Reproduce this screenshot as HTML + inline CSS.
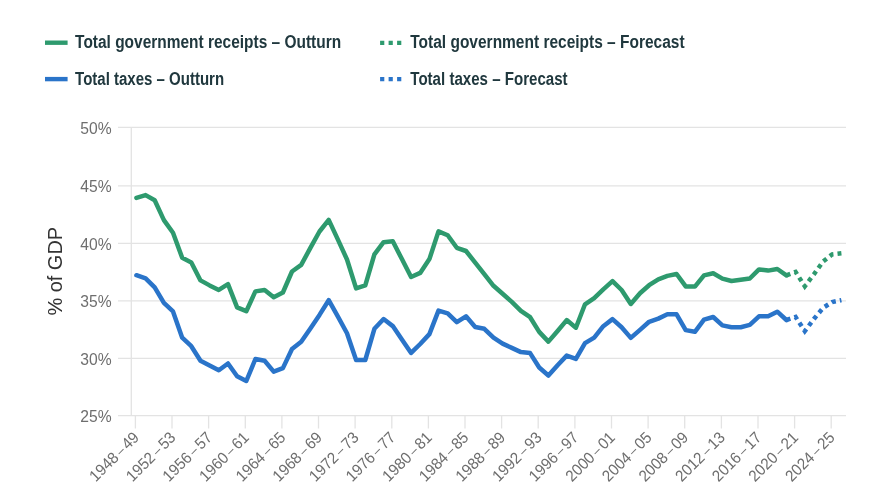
<!DOCTYPE html>
<html><head><meta charset="utf-8"><style>
html,body{margin:0;padding:0;background:#fff;width:869px;height:504px;overflow:hidden}
svg{display:block;will-change:transform}
text{font-family:"Liberation Sans",sans-serif}
</style></head><body>
<svg width="869" height="504" viewBox="0 0 869 504">
<line x1="45" y1="42.7" x2="67.6" y2="42.7" stroke="#2e9a6e" stroke-width="4.4"/>
<line x1="45" y1="79.1" x2="67.6" y2="79.1" stroke="#2a74c9" stroke-width="4.4"/>
<line x1="380.1" y1="42.8" x2="401.5" y2="42.8" stroke="#2e9a6e" stroke-width="4.2" stroke-dasharray="4.2 4.3"/>
<line x1="380.1" y1="79.1" x2="401.5" y2="79.1" stroke="#2a74c9" stroke-width="4.2" stroke-dasharray="4.2 4.3"/>
<text x="75.1" y="48.3" font-family="Liberation Sans" font-weight="bold" font-size="18" fill="#20383e" textLength="266" lengthAdjust="spacingAndGlyphs">Total government receipts – Outturn</text>
<text x="75.1" y="84.5" font-family="Liberation Sans" font-weight="bold" font-size="18" fill="#20383e" textLength="149" lengthAdjust="spacingAndGlyphs">Total taxes – Outturn</text>
<text x="410.3" y="48.3" font-family="Liberation Sans" font-weight="bold" font-size="18" fill="#20383e" textLength="274.3" lengthAdjust="spacingAndGlyphs">Total government receipts – Forecast</text>
<text x="410.3" y="84.5" font-family="Liberation Sans" font-weight="bold" font-size="18" fill="#20383e" textLength="157.3" lengthAdjust="spacingAndGlyphs">Total taxes – Forecast</text>
<line x1="118" y1="127.3" x2="846" y2="127.3" stroke="#e3e3e3" stroke-width="1.3"/>
<text transform="translate(111.6,133.5) scale(0.95,1)" text-anchor="end" font-family="Liberation Sans" font-size="16.5" fill="#6e6e6e">50%</text>
<line x1="118" y1="185.9" x2="846" y2="185.9" stroke="#e3e3e3" stroke-width="1.3"/>
<text transform="translate(111.6,192.1) scale(0.95,1)" text-anchor="end" font-family="Liberation Sans" font-size="16.5" fill="#6e6e6e">45%</text>
<line x1="118" y1="243.4" x2="846" y2="243.4" stroke="#e3e3e3" stroke-width="1.3"/>
<text transform="translate(111.6,249.6) scale(0.95,1)" text-anchor="end" font-family="Liberation Sans" font-size="16.5" fill="#6e6e6e">40%</text>
<line x1="118" y1="300.9" x2="846" y2="300.9" stroke="#e3e3e3" stroke-width="1.3"/>
<text transform="translate(111.6,307.1) scale(0.95,1)" text-anchor="end" font-family="Liberation Sans" font-size="16.5" fill="#6e6e6e">35%</text>
<line x1="118" y1="358.4" x2="846" y2="358.4" stroke="#e3e3e3" stroke-width="1.3"/>
<text transform="translate(111.6,364.6) scale(0.95,1)" text-anchor="end" font-family="Liberation Sans" font-size="16.5" fill="#6e6e6e">30%</text>
<line x1="118" y1="415.7" x2="846" y2="415.7" stroke="#e3e3e3" stroke-width="1.3"/>
<text transform="translate(111.6,421.9) scale(0.95,1)" text-anchor="end" font-family="Liberation Sans" font-size="16.5" fill="#6e6e6e">25%</text>
<line x1="131.3" y1="127.5" x2="131.3" y2="415.5" stroke="#e3e3e3" stroke-width="1.3"/>
<line x1="135.4" y1="415.5" x2="135.4" y2="428.5" stroke="#e3e3e3" stroke-width="1.3"/>
<text transform="translate(140.0,438.4) rotate(-45) scale(0.95,1)" text-anchor="end" font-family="Liberation Sans" font-size="16" fill="#6e6e6e">1948<tspan font-size="12.9" dy="-0.85"> – </tspan><tspan dy="0.85">49</tspan></text>
<line x1="172.0" y1="415.5" x2="172.0" y2="428.5" stroke="#e3e3e3" stroke-width="1.3"/>
<text transform="translate(176.6,438.4) rotate(-45) scale(0.95,1)" text-anchor="end" font-family="Liberation Sans" font-size="16" fill="#6e6e6e">1952<tspan font-size="12.9" dy="-0.85"> – </tspan><tspan dy="0.85">53</tspan></text>
<line x1="208.6" y1="415.5" x2="208.6" y2="428.5" stroke="#e3e3e3" stroke-width="1.3"/>
<text transform="translate(213.2,438.4) rotate(-45) scale(0.95,1)" text-anchor="end" font-family="Liberation Sans" font-size="16" fill="#6e6e6e">1956<tspan font-size="12.9" dy="-0.85"> – </tspan><tspan dy="0.85">57</tspan></text>
<line x1="245.3" y1="415.5" x2="245.3" y2="428.5" stroke="#e3e3e3" stroke-width="1.3"/>
<text transform="translate(249.9,438.4) rotate(-45) scale(0.95,1)" text-anchor="end" font-family="Liberation Sans" font-size="16" fill="#6e6e6e">1960<tspan font-size="12.9" dy="-0.85"> – </tspan><tspan dy="0.85">61</tspan></text>
<line x1="281.9" y1="415.5" x2="281.9" y2="428.5" stroke="#e3e3e3" stroke-width="1.3"/>
<text transform="translate(286.5,438.4) rotate(-45) scale(0.95,1)" text-anchor="end" font-family="Liberation Sans" font-size="16" fill="#6e6e6e">1964<tspan font-size="12.9" dy="-0.85"> – </tspan><tspan dy="0.85">65</tspan></text>
<line x1="318.5" y1="415.5" x2="318.5" y2="428.5" stroke="#e3e3e3" stroke-width="1.3"/>
<text transform="translate(323.1,438.4) rotate(-45) scale(0.95,1)" text-anchor="end" font-family="Liberation Sans" font-size="16" fill="#6e6e6e">1968<tspan font-size="12.9" dy="-0.85"> – </tspan><tspan dy="0.85">69</tspan></text>
<line x1="355.1" y1="415.5" x2="355.1" y2="428.5" stroke="#e3e3e3" stroke-width="1.3"/>
<text transform="translate(359.7,438.4) rotate(-45) scale(0.95,1)" text-anchor="end" font-family="Liberation Sans" font-size="16" fill="#6e6e6e">1972<tspan font-size="12.9" dy="-0.85"> – </tspan><tspan dy="0.85">73</tspan></text>
<line x1="391.8" y1="415.5" x2="391.8" y2="428.5" stroke="#e3e3e3" stroke-width="1.3"/>
<text transform="translate(396.4,438.4) rotate(-45) scale(0.95,1)" text-anchor="end" font-family="Liberation Sans" font-size="16" fill="#6e6e6e">1976<tspan font-size="12.9" dy="-0.85"> – </tspan><tspan dy="0.85">77</tspan></text>
<line x1="428.4" y1="415.5" x2="428.4" y2="428.5" stroke="#e3e3e3" stroke-width="1.3"/>
<text transform="translate(433.0,438.4) rotate(-45) scale(0.95,1)" text-anchor="end" font-family="Liberation Sans" font-size="16" fill="#6e6e6e">1980<tspan font-size="12.9" dy="-0.85"> – </tspan><tspan dy="0.85">81</tspan></text>
<line x1="465.0" y1="415.5" x2="465.0" y2="428.5" stroke="#e3e3e3" stroke-width="1.3"/>
<text transform="translate(469.6,438.4) rotate(-45) scale(0.95,1)" text-anchor="end" font-family="Liberation Sans" font-size="16" fill="#6e6e6e">1984<tspan font-size="12.9" dy="-0.85"> – </tspan><tspan dy="0.85">85</tspan></text>
<line x1="501.6" y1="415.5" x2="501.6" y2="428.5" stroke="#e3e3e3" stroke-width="1.3"/>
<text transform="translate(506.2,438.4) rotate(-45) scale(0.95,1)" text-anchor="end" font-family="Liberation Sans" font-size="16" fill="#6e6e6e">1988<tspan font-size="12.9" dy="-0.85"> – </tspan><tspan dy="0.85">89</tspan></text>
<line x1="538.2" y1="415.5" x2="538.2" y2="428.5" stroke="#e3e3e3" stroke-width="1.3"/>
<text transform="translate(542.8,438.4) rotate(-45) scale(0.95,1)" text-anchor="end" font-family="Liberation Sans" font-size="16" fill="#6e6e6e">1992<tspan font-size="12.9" dy="-0.85"> – </tspan><tspan dy="0.85">93</tspan></text>
<line x1="574.9" y1="415.5" x2="574.9" y2="428.5" stroke="#e3e3e3" stroke-width="1.3"/>
<text transform="translate(579.5,438.4) rotate(-45) scale(0.95,1)" text-anchor="end" font-family="Liberation Sans" font-size="16" fill="#6e6e6e">1996<tspan font-size="12.9" dy="-0.85"> – </tspan><tspan dy="0.85">97</tspan></text>
<line x1="611.5" y1="415.5" x2="611.5" y2="428.5" stroke="#e3e3e3" stroke-width="1.3"/>
<text transform="translate(616.1,438.4) rotate(-45) scale(0.95,1)" text-anchor="end" font-family="Liberation Sans" font-size="16" fill="#6e6e6e">2000<tspan font-size="12.9" dy="-0.85"> – </tspan><tspan dy="0.85">01</tspan></text>
<line x1="648.1" y1="415.5" x2="648.1" y2="428.5" stroke="#e3e3e3" stroke-width="1.3"/>
<text transform="translate(652.7,438.4) rotate(-45) scale(0.95,1)" text-anchor="end" font-family="Liberation Sans" font-size="16" fill="#6e6e6e">2004<tspan font-size="12.9" dy="-0.85"> – </tspan><tspan dy="0.85">05</tspan></text>
<line x1="684.7" y1="415.5" x2="684.7" y2="428.5" stroke="#e3e3e3" stroke-width="1.3"/>
<text transform="translate(689.3,438.4) rotate(-45) scale(0.95,1)" text-anchor="end" font-family="Liberation Sans" font-size="16" fill="#6e6e6e">2008<tspan font-size="12.9" dy="-0.85"> – </tspan><tspan dy="0.85">09</tspan></text>
<line x1="721.4" y1="415.5" x2="721.4" y2="428.5" stroke="#e3e3e3" stroke-width="1.3"/>
<text transform="translate(726.0,438.4) rotate(-45) scale(0.95,1)" text-anchor="end" font-family="Liberation Sans" font-size="16" fill="#6e6e6e">2012<tspan font-size="12.9" dy="-0.85"> – </tspan><tspan dy="0.85">13</tspan></text>
<line x1="758.0" y1="415.5" x2="758.0" y2="428.5" stroke="#e3e3e3" stroke-width="1.3"/>
<text transform="translate(762.6,438.4) rotate(-45) scale(0.95,1)" text-anchor="end" font-family="Liberation Sans" font-size="16" fill="#6e6e6e">2016<tspan font-size="12.9" dy="-0.85"> – </tspan><tspan dy="0.85">17</tspan></text>
<line x1="794.6" y1="415.5" x2="794.6" y2="428.5" stroke="#e3e3e3" stroke-width="1.3"/>
<text transform="translate(799.2,438.4) rotate(-45) scale(0.95,1)" text-anchor="end" font-family="Liberation Sans" font-size="16" fill="#6e6e6e">2020<tspan font-size="12.9" dy="-0.85"> – </tspan><tspan dy="0.85">21</tspan></text>
<line x1="831.2" y1="415.5" x2="831.2" y2="428.5" stroke="#e3e3e3" stroke-width="1.3"/>
<text transform="translate(835.8,438.4) rotate(-45) scale(0.95,1)" text-anchor="end" font-family="Liberation Sans" font-size="16" fill="#6e6e6e">2024<tspan font-size="12.9" dy="-0.85"> – </tspan><tspan dy="0.85">25</tspan></text>
<text transform="translate(62.3,271.25) rotate(-90)" text-anchor="middle" font-family="Liberation Sans" font-size="21" fill="#333" textLength="88.7" lengthAdjust="spacingAndGlyphs">% of GDP</text>
<polyline points="136.4,197.9 145.6,195.1 154.7,200.3 163.9,220.1 173.0,232.8 182.2,257.8 191.3,262.4 200.5,280.4 209.6,285.4 218.8,289.9 228.0,284.1 237.1,307.4 246.3,311.2 255.4,291.4 264.6,290.0 273.7,297.2 282.9,292.5 292.0,271.5 301.2,264.9 310.4,247.9 319.5,231.5 328.7,219.9 337.8,239.4 347.0,259.5 356.1,288.4 365.3,285.4 374.4,254.3 383.6,242.2 392.8,241.3 401.9,259.1 411.1,277.0 420.2,272.9 429.4,259.1 438.5,231.4 447.7,235.3 456.8,247.8 466.0,251.0 475.2,262.6 484.3,274.2 493.5,285.8 502.6,293.8 511.8,301.9 520.9,310.9 530.1,317.2 539.2,331.9 548.4,341.6 557.6,331.0 566.7,320.1 575.9,327.7 585.0,304.3 594.2,298.1 603.3,289.4 612.5,281.1 621.6,290.0 630.8,304.0 640.0,293.3 649.1,285.2 658.3,279.3 667.4,275.9 676.6,274.0 685.7,286.4 694.9,286.6 704.0,275.4 713.2,273.3 722.4,278.6 731.5,281.0 740.7,279.8 749.8,278.5 759.0,269.4 768.1,270.6 777.3,269.0 786.4,275.4" fill="none" stroke="#2e9a6e" stroke-width="4.5" stroke-linejoin="round" stroke-linecap="round"/>
<polyline points="786.4,275.4 795.6,271.9 804.8,286.3 813.9,274.3 823.1,261.5 832.2,254.3 841.4,253.3" fill="none" stroke="#2e9a6e" stroke-width="4.5" stroke-dasharray="4.2 4.1" stroke-miterlimit="10"/>
<polyline points="136.4,275.2 145.6,278.3 154.7,287.4 163.9,302.9 173.0,311.4 182.2,337.7 191.3,346.2 200.5,360.8 209.6,365.5 218.8,370.3 228.0,363.5 237.1,376.2 246.3,381.0 255.4,359.0 264.6,360.8 273.7,371.6 282.9,368.1 292.0,349.0 301.2,341.8 310.4,328.4 319.5,314.9 328.7,300.2 337.8,316.3 347.0,333.3 356.1,359.9 365.3,360.0 374.4,328.8 383.6,319.0 392.8,326.1 401.9,339.5 411.1,352.9 420.2,344.0 429.4,334.1 438.5,310.6 447.7,313.3 456.8,322.2 466.0,316.3 475.2,327.0 484.3,328.8 493.5,337.7 502.6,343.6 511.8,347.9 520.9,352.1 530.1,353.1 539.2,367.5 548.4,375.5 557.6,365.2 566.7,355.6 575.9,358.9 585.0,343.2 594.2,337.6 603.3,326.2 612.5,319.1 621.6,327.2 630.8,337.9 640.0,329.9 649.1,321.8 658.3,318.6 667.4,314.3 676.6,314.3 685.7,330.1 694.9,331.8 704.0,319.7 713.2,317.0 722.4,325.4 731.5,327.2 740.7,327.2 749.8,324.9 759.0,316.3 768.1,316.3 777.3,311.7 786.4,320.0" fill="none" stroke="#2a74c9" stroke-width="4.5" stroke-linejoin="round" stroke-linecap="round"/>
<polyline points="786.4,320.0 795.6,317.0 804.8,331.1 813.9,319.0 823.1,307.8 832.2,302.0 841.4,300.1" fill="none" stroke="#2a74c9" stroke-width="4.5" stroke-dasharray="4.2 4.1" stroke-miterlimit="10"/>
</svg>
</body></html>
